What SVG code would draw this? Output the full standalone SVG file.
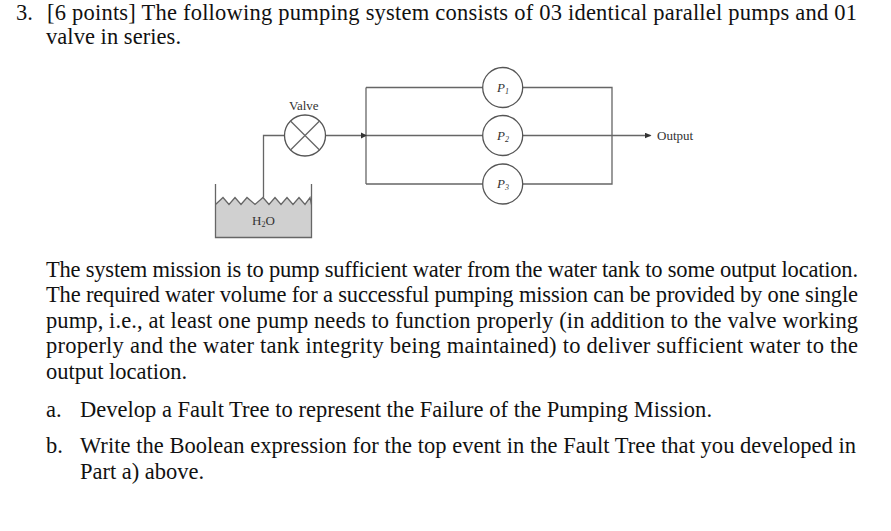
<svg xmlns="http://www.w3.org/2000/svg" width="891" height="531" viewBox="0 0 891 531">
<style>
.t{font-family:"Liberation Serif","Times New Roman",serif;font-size:22.5px;fill:#111}
.d{font-family:"Liberation Serif","Times New Roman",serif;font-size:13px;fill:#333}
.i{font-style:italic}
.s{font-size:8px}
.l{fill:none;stroke:#666;stroke-width:1.3}
.c{fill:#fff;stroke:#555;stroke-width:1.3}
</style>
<defs><marker id="a" markerWidth="7" markerHeight="6" refX="6" refY="3" orient="auto" markerUnits="userSpaceOnUse"><path d="M0 0L7 3L0 6z" fill="#333"/></marker></defs>
<rect width="891" height="531" fill="#fff"/>
<g id="question-text">
<text class="t" x="16" y="20">3.</text>
<text class="t" x="47" y="20" textLength="810" lengthAdjust="spacing">[6 points] The following pumping system consists of 03 identical parallel pumps and 01</text>
<text class="t" x="46" y="44" textLength="135" lengthAdjust="spacing">valve in series.</text>
<text class="t" x="46" y="277" textLength="812" lengthAdjust="spacing">The system mission is to pump sufficient water from the water tank to some output location.</text>
<text class="t" x="46" y="302" textLength="812" lengthAdjust="spacing">The required water volume for a successful pumping mission can be provided by one single</text>
<text class="t" x="46" y="328" textLength="812" lengthAdjust="spacing">pump, i.e., at least one pump needs to function properly (in addition to the valve working</text>
<text class="t" x="46" y="353" textLength="812" lengthAdjust="spacing">properly and the water tank integrity being maintained) to deliver sufficient water to the</text>
<text class="t" x="46" y="379" textLength="141" lengthAdjust="spacing">output location.</text>
<text class="t" x="46" y="417">a.</text>
<text class="t" x="80" y="417" textLength="632" lengthAdjust="spacing">Develop a Fault Tree to represent the Failure of the Pumping Mission.</text>
<text class="t" x="46" y="453">b.</text>
<text class="t" x="80" y="453" textLength="776" lengthAdjust="spacing">Write the Boolean expression for the top event in the Fault Tree that you developed in</text>
<text class="t" x="80" y="479" textLength="124" lengthAdjust="spacing">Part a) above.</text>
</g>
<g id="tank">
<path d="M215.5 204.5L223 197.5L229 204.5L235 197.5L241 204.5L247 197.5L255 204.5L263 197.5L269 204.5L275 197.5L281 204.5L287 197.5L293 204.5L299 197.5L305 204.5L310 197.5L311.5 204.5V237.5H215.5Z" fill="#d0d0d0"/>
<path class="l" d="M215.5 184V237.5H311.5V184"/>
<path class="l" d="M215.5 204.5L223 197.5L229 204.5L235 197.5L241 204.5L247 197.5L255 204.5L263 197.5L269 204.5L275 197.5L281 204.5L287 197.5L293 204.5L299 197.5L305 204.5L310 197.5L311.5 204.5"/>
<text class="d" x="252" y="225">H<tspan class="s" dy="2">2</tspan><tspan dy="-2">O</tspan></text>
</g>
<g id="connectors">
<path class="l" d="M263.5 197.5V135.5H285"/>
<path class="l" d="M325.5 135.5H483"/>
<path class="l" d="M366 87.5V184"/>
<path class="l" d="M366 87.5H483M366 184H483"/>
<path class="l" d="M522.5 87.5H612V184H522.5"/>
<path class="l" d="M522.5 135.5H650.5" marker-end="url(#a)"/>
<path d="M361 132.5L367 135.5L361 138.5z" fill="#333"/>
</g>
<g id="valve">
<circle class="c" cx="305" cy="135.5" r="20.5"/>
<path class="l" d="M290.5 121L319.5 150M319.5 121L290.5 150"/>
<text class="d" x="289" y="110">Valve</text>
</g>
<g id="p1"><circle class="c" cx="502.7" cy="87.5" r="20"/><text class="d i" x="497" y="92">P<tspan class="s" dy="2">1</tspan></text></g>
<g id="p2"><circle class="c" cx="502.7" cy="135.5" r="20"/><text class="d i" x="497" y="140">P<tspan class="s" dy="2">2</tspan></text></g>
<g id="p3"><circle class="c" cx="502.7" cy="184" r="20"/><text class="d i" x="497" y="188">P<tspan class="s" dy="2">3</tspan></text></g>
<g id="output"><text class="d" x="657" y="140">Output</text></g>
</svg>
